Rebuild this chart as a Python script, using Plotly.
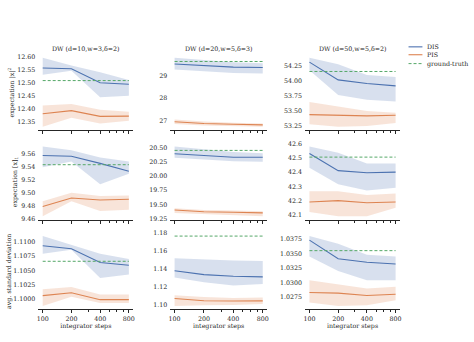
import plotly.graph_objects as go
import numpy as np

W, H = 474, 342
steps = [100, 200, 400, 800]
step_labels = ["100", "200", "400", "800"]
minor_steps = [300, 500, 600, 700]
titles = ["DW (d=10,w=3,δ=2)", "DW (d=20,w=5,δ=3)", "DW (d=50,w=5,δ=2)"]
ylabels = ["expectation |x|<sup>2</sup>", "expectation [x]<sub>1</sub>", "avg. standard deviation"]
xlabel = "integrator steps"
legend_names = ["DIS", "PIS", "ground-truth"]

# ---- row 1: expectation |x|^2 (columns: d=10, d=20, d=50)
sq_dis_mean = [[12.556, 12.553, 12.500, 12.494], [29.52, 29.45, 29.38, 29.36], [54.316, 54.02, 53.96, 53.92]]
sq_dis_hi = [[12.595, 12.565, 12.540, 12.510], [29.80, 29.70, 29.60, 29.55], [54.39, 54.28, 54.10, 54.07]]
sq_dis_lo = [[12.530, 12.545, 12.445, 12.450], [29.27, 29.18, 29.12, 29.09], [54.18, 53.77, 53.69, 53.66]]
sq_pis_mean = [[12.382, 12.394, 12.372, 12.373], [26.94, 26.86, 26.83, 26.80], [53.44, 53.43, 53.42, 53.43]]
sq_pis_hi = [[12.413, 12.419, 12.397, 12.390], [27.04, 26.95, 26.90, 26.86], [53.65, 53.58, 53.50, 53.47]]
sq_pis_lo = [[12.333, 12.367, 12.345, 12.355], [26.84, 26.77, 26.75, 26.72], [53.28, 53.24, 53.25, 53.30]]
sq_gt = [12.508, 29.63, 54.16]

# ---- row 2: expectation [x]_1
x1_dis_mean = [[9.557, 9.556, 9.545, 9.533], [20.39, 20.36, 20.33, 20.33], [42.53, 42.41, 42.395, 42.40]]
x1_dis_hi = [[9.571, 9.565, 9.554, 9.548], [20.52, 20.47, 20.42, 20.40], [42.58, 42.535, 42.46, 42.46]]
x1_dis_lo = [[9.539, 9.548, 9.513, 9.529], [20.32, 20.29, 20.26, 20.25], [42.43, 42.315, 42.27, 42.29]]
x1_pis_mean = [[9.479, 9.492, 9.489, 9.490], [19.40, 19.37, 19.36, 19.35], [42.19, 42.20, 42.185, 42.19]]
x1_pis_hi = [[9.487, 9.500, 9.495, 9.496], [19.43, 19.40, 19.39, 19.38], [42.265, 42.265, 42.24, 42.25]]
x1_pis_lo = [[9.464, 9.487, 9.472, 9.474], [19.35, 19.32, 19.31, 19.29], [42.12, 42.09, 42.09, 42.15]]
x1_gt = [9.543, 20.45, 42.505]

# ---- row 3: avg. standard deviation
sd_dis_mean = [[1.1093, 1.1088, 1.1064, 1.1059], [1.1379, 1.1336, 1.1318, 1.1310], [1.0373, 1.0341, 1.0335, 1.0332]]
sd_dis_hi = [[1.1110, 1.1095, 1.1079, 1.1070], [1.1518, 1.1505, 1.1495, 1.1489], [1.0380, 1.0367, 1.0348, 1.0345]]
sd_dis_lo = [[1.1079, 1.1086, 1.1037, 1.1043], [1.1304, 1.1250, 1.1214, 1.1232], [1.0345, 1.0320, 1.0304, 1.0304]]
sd_pis_mean = [[1.1006, 1.1011, 1.0999, 1.0999], [1.1068, 1.1043, 1.1040, 1.1042], [1.0283, 1.0282, 1.0278, 1.0280]]
sd_pis_hi = [[1.1017, 1.1021, 1.1008, 1.1008], [1.1104, 1.1085, 1.1075, 1.1079], [1.0304, 1.0297, 1.0290, 1.0293]]
sd_pis_lo = [[1.0988, 1.1004, 1.0993, 1.0993], [1.0985, 1.0993, 1.0995, 1.1007], [1.0266, 1.0260, 1.0261, 1.0270]]
sd_gt = [1.1066, 1.1767, 1.0355]

# y tick spacing / format per panel
ytick_step = [[0.05, 1.0, 0.25], [0.02, 0.25, 0.1], [0.0025, 0.02, 0.0025]]
ytick_fmt = [[".2f", ".0f", ".2f"], [".2f", ".2f", ".1f"], [".4f", ".2f", ".4f"]]

rows_data = [
    (sq_dis_mean, sq_dis_hi, sq_dis_lo, sq_pis_mean, sq_pis_hi, sq_pis_lo, sq_gt),
    (x1_dis_mean, x1_dis_hi, x1_dis_lo, x1_pis_mean, x1_pis_hi, x1_pis_lo, x1_gt),
    (sd_dis_mean, sd_dis_hi, sd_dis_lo, sd_pis_mean, sd_pis_hi, sd_pis_lo, sd_gt),
]

BLUE = "#4c72b0"
ORANGE = "#dd8452"
GREEN = "#55a868"
BLUE_F = "rgba(76,114,176,0.22)"
ORANGE_F = "rgba(221,132,82,0.22)"
TXT = "#262626"
FONT = "DejaVu Serif"
FS = 6.3

cols_px = [(36.7, 132.3), (169.6, 267.4), (305.7, 401.3)]
rows_px = [(52, 129), (142, 220), (233, 311)]
ylabel_x = [9.5, 13.0, 7.0]

fig = go.Figure()
layout = {}
xr = [np.log10(min(steps)), np.log10(max(steps))]
xpad = 0.05 * (xr[1] - xr[0])
xrange_ = [xr[0] - xpad, xr[1] + xpad]

for r in range(3):
    dm, dh, dl, pm, ph, pl, gt = rows_data[r]
    for c in range(3):
        k = r * 3 + c + 1
        xa = "x" if k == 1 else f"x{k}"
        ya = "y" if k == 1 else f"y{k}"
        # bands
        fig.add_trace(go.Scatter(x=steps + steps[::-1], y=dh[c] + dl[c][::-1], fill="toself",
                                 fillcolor=BLUE_F, line=dict(width=0), mode="lines",
                                 hoverinfo="skip", showlegend=False, xaxis=xa, yaxis=ya))
        fig.add_trace(go.Scatter(x=steps + steps[::-1], y=ph[c] + pl[c][::-1], fill="toself",
                                 fillcolor=ORANGE_F, line=dict(width=0), mode="lines",
                                 hoverinfo="skip", showlegend=False, xaxis=xa, yaxis=ya))
        fig.add_trace(go.Scatter(x=steps, y=dm[c], mode="lines", line=dict(color=BLUE, width=1.1),
                                 name="DIS", showlegend=False, xaxis=xa, yaxis=ya))
        fig.add_trace(go.Scatter(x=steps, y=pm[c], mode="lines", line=dict(color=ORANGE, width=1.1),
                                 name="PIS", showlegend=False, xaxis=xa, yaxis=ya))
        fig.add_trace(go.Scatter(x=steps, y=[gt[c]] * len(steps), mode="lines",
                                 line=dict(color=GREEN, width=1, dash="3px,2px"),
                                 name="ground-truth", showlegend=False, xaxis=xa, yaxis=ya))
        # autoscale like matplotlib (5% margins)
        allv = dm[c] + dh[c] + dl[c] + pm[c] + ph[c] + pl[c] + [gt[c]]
        lo, hi = min(allv), max(allv)
        pad = 0.05 * (hi - lo)
        yrng = [lo - pad, hi + pad]
        st = ytick_step[r][c]
        n0 = int(np.ceil(yrng[0] / st - 1e-9))
        n1 = int(np.floor(yrng[1] / st + 1e-9))
        tv = [round(n * st, 6) for n in range(n0, n1 + 1)]
        tt = [format(v, ytick_fmt[r][c]) for v in tv]
        x0, x1 = cols_px[c]
        y0, y1 = rows_px[r]
        xkey = "xaxis" if k == 1 else f"xaxis{k}"
        ykey = "yaxis" if k == 1 else f"yaxis{k}"
        xa_cfg = dict(
            type="log", domain=[x0 / W, x1 / W], anchor=ya, range=xrange_,
            tickvals=steps, ticks="outside", ticklen=3, tickwidth=0.8, tickcolor=TXT,
            minor=dict(tickvals=minor_steps, ticks="outside", ticklen=2, tickwidth=0.6, tickcolor=TXT),
            showline=True, linecolor=TXT, linewidth=0.9, showgrid=False, zeroline=False,
            tickfont=dict(family=FONT, size=FS, color=TXT),
        )
        if r == 2:
            xa_cfg["ticktext"] = step_labels
            xa_cfg["title"] = dict(text=xlabel, font=dict(family=FONT, size=FS, color=TXT), standoff=0)
        else:
            xa_cfg["showticklabels"] = False
        layout[xkey] = xa_cfg
        layout[ykey] = dict(
            domain=[1 - y1 / H, 1 - y0 / H], anchor=xa, range=yrng,
            tickvals=tv, ticktext=tt, ticks="", showline=False, showgrid=False, zeroline=False,
            tickfont=dict(family=FONT, size=FS, color=TXT), ticklabelstandoff=2,
        )

ann = []
for c in range(3):
    cx = (cols_px[c][0] + cols_px[c][1]) / 2 / W
    ann.append(dict(text=titles[c], x=cx, y=1 - 46 / H, xref="paper", yref="paper",
                    showarrow=False, font=dict(family=FONT, size=FS, color=TXT),
                    xanchor="center", yanchor="middle"))
for r in range(3):
    cy = 1 - (rows_px[r][0] + rows_px[r][1]) / 2 / H
    ann.append(dict(text=ylabels[r], x=ylabel_x[r] / W, y=cy, xref="paper", yref="paper",
                    showarrow=False, textangle=-90, font=dict(family=FONT, size=FS, color=TXT),
                    xanchor="center", yanchor="middle"))

# manual legend
shapes = []
leg_y = [44.5, 52.5, 61.5]
leg_style = [dict(color=BLUE, width=1.1), dict(color=ORANGE, width=1.1), dict(color=GREEN, width=1, dash="3px,2px")]
for i, nm in enumerate(legend_names):
    yy = 1 - leg_y[i] / H
    shapes.append(dict(type="line", xref="paper", yref="paper", x0=410 / W, x1=424 / W,
                       y0=yy, y1=yy, line=leg_style[i]))
    ann.append(dict(text=nm, x=427 / W, y=yy, xref="paper", yref="paper", showarrow=False,
                    font=dict(family=FONT, size=FS, color=TXT), xanchor="left", yanchor="middle"))

fig.update_layout(**layout)
fig.update_layout(width=W, height=H, margin=dict(l=0, r=0, t=0, b=0),
                  paper_bgcolor="white", plot_bgcolor="white", annotations=ann, shapes=shapes,
                  showlegend=False)
fig.write_html("out.html")
